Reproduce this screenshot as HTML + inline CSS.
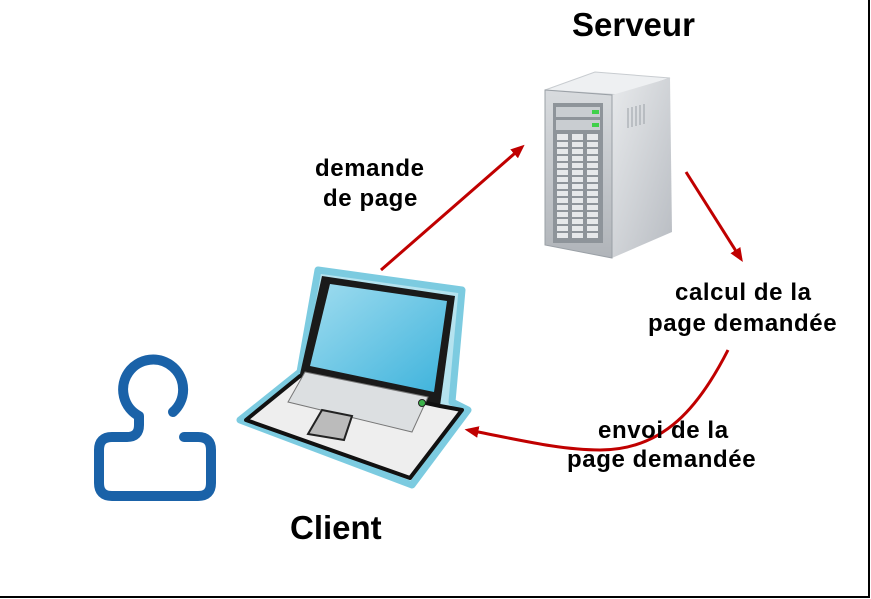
<!DOCTYPE html>
<html><head><meta charset="utf-8"><style>
html,body{margin:0;padding:0;background:#fff;}
svg{display:block;}
text{font-family:"Liberation Sans",Arial,sans-serif;font-weight:bold;fill:#000;}
</style></head><body>
<svg width="871" height="599" viewBox="0 0 871 599" xmlns="http://www.w3.org/2000/svg">
<defs>
<linearGradient id="side" x1="0" y1="0" x2="1" y2="1"><stop offset="0" stop-color="#e8eaec"/><stop offset="1" stop-color="#b8bcc2"/></linearGradient>
<linearGradient id="front" x1="0" y1="0" x2="0" y2="1"><stop offset="0" stop-color="#d8dbde"/><stop offset="1" stop-color="#b0b4b9"/></linearGradient>
<linearGradient id="scr" x1="0" y1="0" x2="1" y2="1"><stop offset="0" stop-color="#9fdcef"/><stop offset="1" stop-color="#3eb3dc"/></linearGradient>
<marker id="ah" markerWidth="14" markerHeight="12" refX="9" refY="5" orient="auto" markerUnits="userSpaceOnUse" viewBox="0 0 12 10"><path d="M0,0 L12,5 L0,10 z" fill="#c00000"/></marker>
</defs>
<rect width="871" height="599" fill="#fff"/>
<line x1="869" y1="0" x2="869" y2="598" stroke="#000" stroke-width="2"/>
<line x1="0" y1="597" x2="870" y2="597" stroke="#000" stroke-width="2"/>

<!-- Server -->
<polygon points="545,90 595,72 670,78 622,95" fill="#eef0f2" stroke="#c8ccd0"/>
<polygon points="612,95 670,78 672,232 612,258" fill="url(#side)"/>
<polygon points="545,90 612,95 612,258 545,245" fill="url(#front)" stroke="#9aa0a6"/>
<rect x="553" y="103" width="50" height="140" fill="#8e949a"/>
<rect x="556" y="107" width="44" height="10" fill="#c9cdd1"/>
<rect x="556" y="120" width="44" height="10" fill="#c9cdd1"/>
<rect x="592" y="110" width="7" height="4" fill="#3fd04a"/>
<rect x="592" y="123" width="7" height="4" fill="#3fd04a"/>
<g fill="#e6e8ea">
<rect x="557" y="134" width="11" height="104"/><rect x="572" y="134" width="11" height="104"/><rect x="587" y="134" width="11" height="104"/>
</g>
<g stroke="#8e949a" stroke-width="2">
<line x1="555" y1="141" x2="600" y2="141"/><line x1="555" y1="148" x2="600" y2="148"/><line x1="555" y1="155" x2="600" y2="155"/><line x1="555" y1="162" x2="600" y2="162"/><line x1="555" y1="169" x2="600" y2="169"/><line x1="555" y1="176" x2="600" y2="176"/><line x1="555" y1="183" x2="600" y2="183"/><line x1="555" y1="190" x2="600" y2="190"/><line x1="555" y1="197" x2="600" y2="197"/><line x1="555" y1="204" x2="600" y2="204"/><line x1="555" y1="211" x2="600" y2="211"/><line x1="555" y1="218" x2="600" y2="218"/><line x1="555" y1="225" x2="600" y2="225"/><line x1="555" y1="232" x2="600" y2="232"/>
</g>
<g stroke="#9aa0a6" stroke-width="1"><line x1="628" y1="108" x2="628" y2="128"/><line x1="632" y1="107" x2="632" y2="127"/><line x1="636" y1="106" x2="636" y2="126"/><line x1="640" y1="105" x2="640" y2="125"/><line x1="644" y1="104" x2="644" y2="124"/></g>

<!-- Laptop -->
<path d="M318,270 L462,290 L452,402 L468,410 L412,485 L240,420 L300,372 Z" fill="#b5e3ef" stroke="#7ccbe0" stroke-width="7" stroke-linejoin="round"/>
<path d="M322,276 L455,296 L440,406 L300,374 Z" fill="#1a1a1a"/>
<path d="M330,284 L447,301 L434,392 L310,366 Z" fill="url(#scr)"/>
<path d="M300,376 L440,406 L462,410 L410,478 L246,420 Z" fill="#eeeeee" stroke="#111" stroke-width="4" stroke-linejoin="round"/>
<path d="M305,372 L428,397 L412,432 L288,402 Z" fill="#dcdfe1" stroke="#777" stroke-width="1"/>
<path d="M322,410 L352,416 L344,440 L308,434 Z" fill="#bbb" stroke="#222" stroke-width="2"/>
<circle cx="422" cy="403" r="3.5" fill="#3bb24a" stroke="#222"/>

<!-- User icon -->
<path d="M173,412 A30,30 0 1 0 139,416 L139,425 Q139,437 127,437 L112,437 Q99,437 99,450 L99,483 Q99,496 112,496 L198,496 Q211,496 211,483 L211,450 Q211,437 198,437 L184,437" fill="none" stroke="#1a62a8" stroke-width="10" stroke-linecap="round" stroke-linejoin="round"/>

<!-- Arrows -->
<line x1="381" y1="270" x2="522" y2="147" stroke="#c00000" stroke-width="3" marker-end="url(#ah)"/>
<line x1="686" y1="172" x2="741" y2="259" stroke="#c00000" stroke-width="3" marker-end="url(#ah)"/>
<path d="M728,350 C700,405 665,450 600,450 C560,450 520,440 468,430" fill="none" stroke="#c00000" stroke-width="3" marker-end="url(#ah)"/>

<!-- Text -->
<text x="572" y="36" font-size="33">Serveur</text>
<text x="290" y="539" font-size="33">Client</text>
<text x="315" y="176" font-size="24" letter-spacing="0.6">demande</text>
<text x="323" y="206" font-size="24" letter-spacing="0.6">de page</text>
<text x="675" y="300" font-size="24" letter-spacing="0.6">calcul de la</text>
<text x="648" y="331" font-size="24" letter-spacing="0.6">page demandée</text>
<text x="598" y="438" font-size="24" letter-spacing="0.6">envoi de la</text>
<text x="567" y="467" font-size="24" letter-spacing="0.6">page demandée</text>
</svg>
</body></html>
